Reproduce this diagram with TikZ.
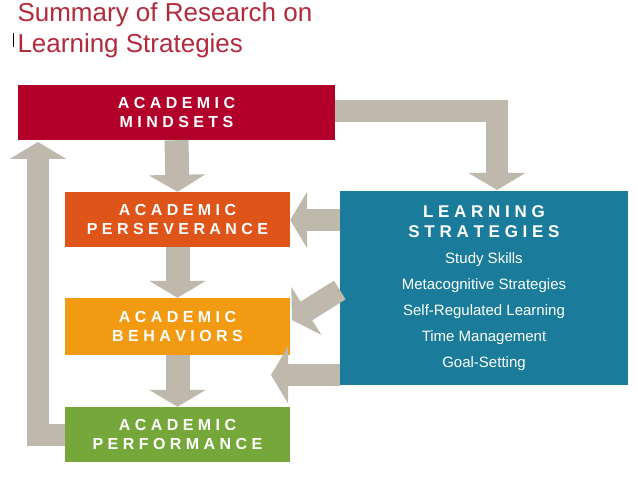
\documentclass[tikz,border=0pt]{standalone}
\usepackage{fontspec}
\setmainfont{Liberation Sans}
\usetikzlibrary{arrows.meta,calc}
\definecolor{ttl}{HTML}{B22A3C}
\definecolor{cmind}{HTML}{B3002B}
\definecolor{cpers}{HTML}{DF5418}
\definecolor{cbeh}{HTML}{F39A13}
\definecolor{cperf}{HTML}{76A73B}
\definecolor{cls}{HTML}{1A7C9A}
\definecolor{carr}{HTML}{BFB8AD}
\tikzset{
 box/.style={fill=#1,text=white,font=\bfseries\fontsize{16}{19}\selectfont,align=center,inner sep=0pt},
 blk/.style={draw=carr,line width=24pt,-{Triangle[width=56pt,length=17pt]}},
}
\begin{document}
\begin{tikzpicture}[x=1pt,y=-1pt]
\useasboundingbox (0,0) rectangle (638,478);
\fill[white] (0,0) rectangle (638,478);
\node[anchor=west,text=ttl,font=\fontsize{26}{30}\selectfont] (t1) at (14,15) {Summary of Research on};
\node[anchor=west,text=ttl,font=\fontsize{26}{30}\selectfont] (t2) at (14,46) {Learning Strategies};
\draw[line width=1pt] (13,33) -- (13,47);
\node[box=cmind,minimum width=317pt,minimum height=55pt] (mind) at (176.5,112.5) {A C A D E M I C\\M I N D S E T S};
\node[box=cpers,minimum width=225pt,minimum height=55pt] (pers) at (177.5,219.5) {A C A D E M I C\\P E R S E V E R A N C E};
\node[box=cbeh,minimum width=225pt,minimum height=57pt] (beh) at (177.5,326.5) {A C A D E M I C\\B E H A V I O R S};
\node[box=cperf,minimum width=225pt,minimum height=55pt] (perf) at (177.5,434.5) {A C A D E M I C\\P E R F O R M A N C E};
\node[fill=cls,minimum width=288pt,minimum height=194pt,inner sep=0pt] (ls) at (484,288) {};
\node[text=white,font=\bfseries\fontsize{17}{20}\selectfont,align=center] (lst) at (484,222) {L E A R N I N G\\S T R A T E G I E S};
\node[text=white,font=\fontsize{15}{26}\selectfont,align=center,anchor=north] (lsi) at (484,249) {Study Skills\\Metacognitive Strategies\\Self-Regulated Learning\\Time Management\\Goal-Setting};
% arrows
\draw[blk] (mind.south) -- (pers.north);
\draw[blk] (pers.south) -- (beh.north);
\draw[blk] (beh.south) -- (perf.north);
\coordinate (c1) at (497,111);
\draw[blk,line width=22pt] (mind.east |- c1) -- (c1) -- (497,190);
\coordinate (c2) at (38,435);
\draw[blk,line width=22pt] (perf.west |- c2) -- (c2) -- (38,142);
\draw[blk,line width=22pt] (ls.west |- 0,220) -- (pers.east |- 0,220);
\draw[blk,line width=22pt] (ls.west |- 0,290) -- (292,320);
\draw[blk,line width=22pt] (ls.west |- 0,375) -- (271,375);
\end{tikzpicture}
\end{document}
